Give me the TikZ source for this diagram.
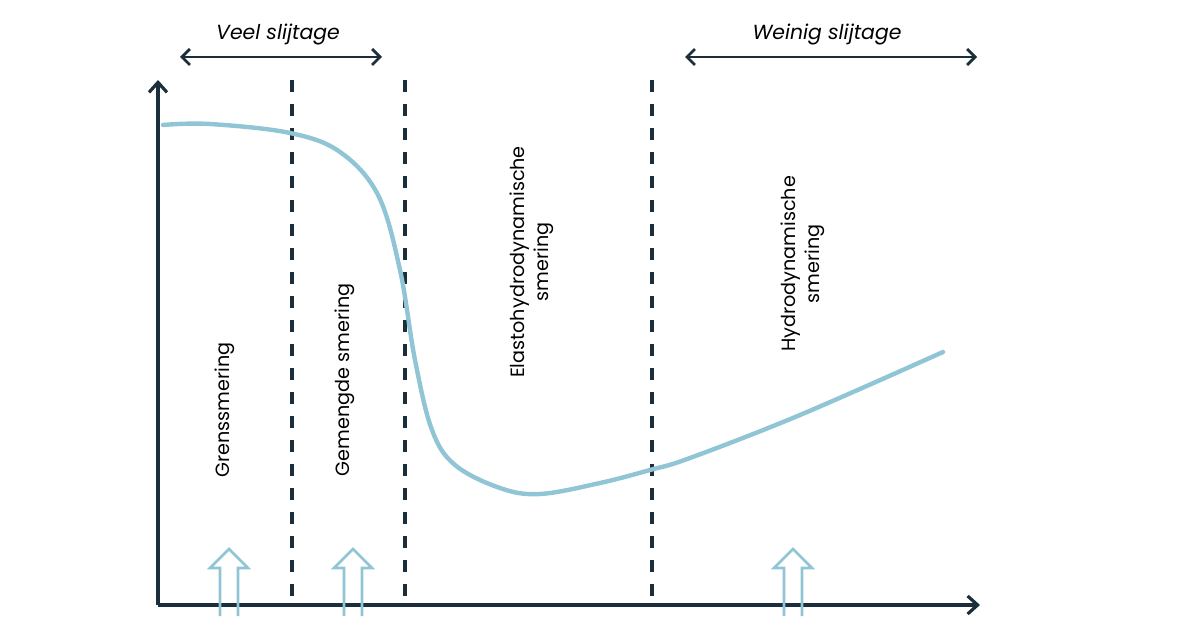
\documentclass[tikz,border=0pt]{standalone}
\usepackage{fontspec}
\setmainfont{Poppins}
\usetikzlibrary{arrows.meta}
\definecolor{dark}{HTML}{1A2E3B}
\definecolor{curvecol}{HTML}{8FC5D5}
\tikzset{
 axisline/.style={dark,line width=1.6pt,-{Straight Barb[length=5pt,width=9pt]}},
 vline/.style={dark,line width=1.6pt,dash pattern=on 6pt off 6pt},
 rangeline/.style={dark,line width=1.4pt,{Straight Barb[length=4pt,width=8pt]}-{Straight Barb[length=4pt,width=8pt]}},
 lbl/.style={font=\fontsize{9.6}{12}\selectfont,align=center},
 ttl/.style={font=\fontsize{10.2}{12}\selectfont\itshape},
 openarrow/.style={curvecol,line width=1.3pt,line join=miter}
}
\begin{document}
\begin{tikzpicture}[x=0.5pt,y=-0.5pt]
\useasboundingbox (0,0) rectangle (1200,630);
\coordinate (o) at (158,605);
\coordinate (ytop) at (158,80);
\coordinate (xend) at (980,605);
\draw[axisline] (o) -- (ytop);
\draw[axisline] (o) -- (xend);
\foreach \x/\n in {292/a,405/b,652/c}{
 \coordinate (\n t) at (\x,80); \coordinate (\n b) at (\x,605);
 \draw[vline] (\n t) -- (\n b);}
\draw[curvecol,line width=2.2pt,line cap=round] plot[smooth,tension=0.6] coordinates{
 (163,125) (210,124) (290,133) (340,152) (378,195) (400,270) (415,360) (432,430) (455,465) (500,488) (540,494) (600,483) (650,470) (690,458) (800,415) (943,352)};
\coordinate (v1a) at (180,57); \coordinate (v1b) at (382,57);
\coordinate (v2a) at (685,57); \coordinate (v2b) at (977,57);
\draw[rangeline] (v1a) -- (v1b);
\draw[rangeline] (v2a) -- (v2b);
\node[ttl] (veel) at (278,34) {Veel slijtage};
\node[ttl] (weinig) at (827,34) {Weinig slijtage};
\node[lbl,rotate=90] (g1) at (225,410) {Grenssmering};
\node[lbl,rotate=90] (g2) at (345,380) {Gemengde smering};
\node[lbl,rotate=90] (g3) at (532,262) {Elastohydrodynamische\\smering};
\node[lbl,rotate=90] (g4) at (803,264) {Hydrodynamische\\smering};
\foreach \c in {229,353,793}{
 \draw[openarrow] (\c-9,616) -- (\c-9,568) -- (\c-19,568) -- (\c,549) -- (\c+19,568) -- (\c+9,568) -- (\c+9,616);}
\end{tikzpicture}
\end{document}
